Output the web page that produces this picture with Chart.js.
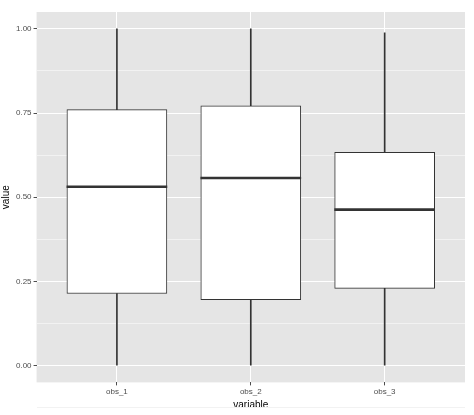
<!DOCTYPE html>
<html><head><script src="https://cdn.jsdelivr.net/npm/chart.js@4"></script>
<style>html,body{margin:0;background:#fff}#w{width:474px;height:415px}</style></head>
<body><div id="w"><canvas id="c"></canvas></div>
<script>
const categories=["obs_1","obs_2","obs_3"];
const mins=[0.0,0.0,0.0];
const q1s=[0.214,0.196,0.229];
const medians=[0.531,0.557,0.463];
const q3s=[0.760,0.771,0.633];
const maxs=[1.0,1.0,0.988];
const yTicks=[0,0.25,0.5,0.75,1.0];
const bg={id:'bg',beforeDraw(c){const a=c.chartArea,x=c.ctx;x.save();x.fillStyle='#E5E5E5';x.fillRect(a.left,a.top,a.right-a.left,a.bottom-a.top);x.restore();}};
const ds=(data,w,fill,border,order)=>({data,order,barThickness:w,backgroundColor:fill,borderColor:border,borderWidth:border?1:0,borderSkipped:false,grouped:false});
new Chart(document.getElementById('c'),{type:'bar',
data:{datasets:[
ds(categories.map((c,i)=>({x:i+1,y:[medians[i]-0.003,medians[i]+0.003]})),100,'#333',0,0),
ds(categories.map((c,i)=>({x:i+1,y:[q1s[i],q3s[i]]})),100,'#fff','#333',1),
ds(categories.map((c,i)=>({x:i+1,y:[mins[i],q1s[i]]})),1,'#333',0,2),
ds(categories.map((c,i)=>({x:i+1,y:[q3s[i],maxs[i]]})),1,'#333',0,3)
]},
options:{responsive:true,maintainAspectRatio:false,animation:false,
layout:{padding:{top:12,right:9,left:0,bottom:4}},
plugins:{legend:{display:false},tooltip:{enabled:false}},
scales:{
x:{type:'linear',offset:false,min:0.4,max:3.6,afterBuildTicks(s){s.ticks=[1,2,3].map(v=>({value:v}));},
ticks:{callback:v=>categories[v-1]||'',color:'#4D4D4D',font:{size:8,family:'Liberation Sans'},padding:2},
grid:{offset:false,color:'#fff',lineWidth:1,drawTicks:true,tickLength:3,tickColor:'#4D4D4D'},border:{display:false},
title:{display:true,text:'variable',color:'#000',font:{size:10,family:'Liberation Sans'},padding:{top:0,bottom:0}}},
y:{min:-0.05,max:1.05,afterBuildTicks(s){const t=[];for(let v=-0.125;v<=1.126;v+=0.125)t.push({value:Math.round(v*1000)/1000});s.ticks=t;},
ticks:{callback:v=>yTicks.some(t=>Math.abs(t-v)<1e-6)?v.toFixed(2):'',color:'#4D4D4D',font:{size:8,family:'Liberation Sans'},padding:2},
grid:{color:c=>yTicks.some(t=>Math.abs(t-c.tick.value)<1e-6)?'#fff':'#F2F2F2',lineWidth:1,tickLength:3,tickColor:c=>yTicks.some(t=>Math.abs(t-c.tick.value)<1e-6)?'#4D4D4D':'rgba(0,0,0,0)'},border:{display:false},
title:{display:true,text:'value',color:'#000',font:{size:10,family:'Liberation Sans'},padding:{top:0,bottom:2}}}
}},plugins:[bg]});
</script></body></html>
